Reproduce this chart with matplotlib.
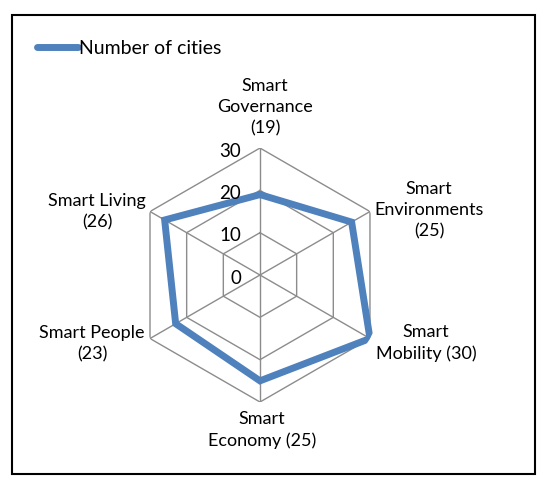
import numpy as np
import matplotlib
matplotlib.use("Agg")
import matplotlib.pyplot as plt
from matplotlib.patches import Rectangle

# data
categories = ["Smart\nGovernance\n(19)", "Smart\nEnvironments\n(25)", "Smart\nMobility (30)",
              "Smart\nEconomy (25)", "Smart People\n(23)", "Smart Living\n(26)"]
values = [19, 25, 30, 25, 23, 26]
rings = [0, 10, 20, 30]
series_name = "Number of cities"

plt.rcParams['font.family'] = ['Lato', 'DejaVu Sans']
blue = "#4F81BD"
grey = "#8c8c8c"

fig = plt.figure(figsize=(5.5, 4.83), dpi=100)
ax = fig.add_axes([0.2418, 0.1676, 0.4618, 0.526], polar=True)
ax.set_theta_offset(np.pi / 2)
ax.set_theta_direction(-1)
ax.set_ylim(0, 30)
ax.grid(False)
ax.spines['polar'].set_visible(False)
ax.set_xticks([])
ax.set_yticks([])
ax.patch.set_alpha(0)

n = len(values)
ang = np.linspace(0, 2 * np.pi, n, endpoint=False)
ang_c = np.append(ang, ang[0])

# hexagonal grid
for r in rings[1:]:
    ax.plot(ang_c, [r] * (n + 1), color=grey, lw=1, zorder=1)
for a in ang:
    ax.plot([a, a], [0, rings[-1]], color=grey, lw=1, zorder=1)

# series
vals_c = values + values[:1]
ax.plot(ang_c, vals_c, color=blue, lw=5, solid_joinstyle='miter',
        solid_capstyle='round', label=series_name, zorder=3)

# ring labels
for r in rings:
    ax.annotate(str(r), xy=(0, r), xytext=(-19, -3), textcoords='offset pixels',
                ha='right', va='center', fontsize=13.5, color='black')

# category labels, offsets in pixels from the outer vertex
offsets = [(5, 41), (59, 1), (56, -4), (2, -28), (-58, -5), (-53, 0)]
for lab, a, off in zip(categories, ang, offsets):
    ax.annotate(lab, xy=(a, rings[-1]), xytext=off, textcoords='offset pixels',
                ha='center', va='center', multialignment='center', fontsize=13,
                linespacing=1.4, annotation_clip=False)

fig.legend(loc='center left', bbox_to_anchor=(0.036, 0.899), frameon=False,
           handlelength=2.1, handletextpad=0.05, fontsize=14)

fig.patches.append(Rectangle((0.0218, 0.0186), 0.951, 0.950, transform=fig.transFigure,
                             fill=False, edgecolor='black', lw=1.5))

fig.savefig("out.png", dpi=100)
